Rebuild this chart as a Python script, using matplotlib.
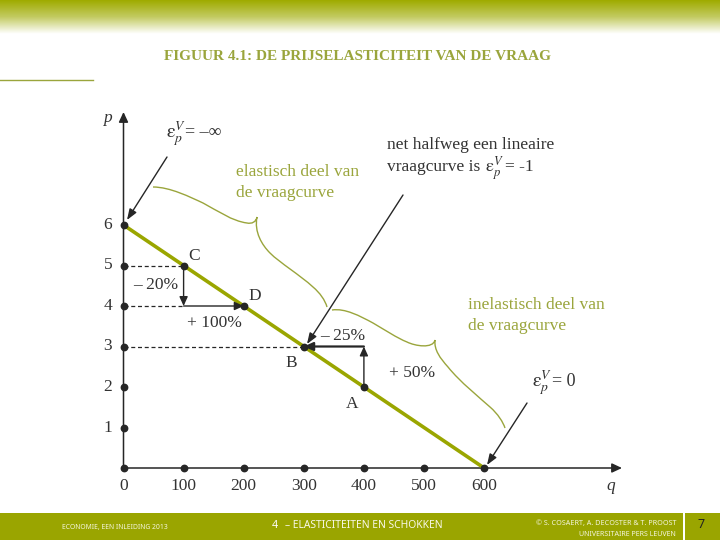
import numpy as np
import matplotlib
matplotlib.use("Agg")
import matplotlib.pyplot as plt
from matplotlib.path import Path
from matplotlib.patches import PathPatch, Rectangle
from matplotlib.colors import LinearSegmentedColormap

plt.rcParams['font.family'] = ['Liberation Serif', 'DejaVu Sans']
plt.rcParams['mathtext.fontset'] = 'stix'

# values
q_ticks = [0, 100, 200, 300, 400, 500, 600]
p_ticks = [1, 2, 3, 4, 5, 6]
curve_q = [0, 600]
curve_p = [6, 0]
point_names = ['C', 'D', 'B', 'A']
point_q = [100, 200, 300, 400]
point_p = [5, 4, 3, 2]
pct_labels = ['– 20%', '+ 100%', '– 25%', '+ 50%']

green = '#9aa600'
text_green = '#9aa53c'
dark = '#262626'
grey = '#333333'

W, H = 720, 540
X0, Y0 = 123.5, 468.0   # pixel of the origin
SX, SY = 0.601, 40.5    # pixels per unit


def px(x, y):
	# pixel in the picture -> data coordinates, only for placing annotations
	return (x - X0) / SX, (Y0 - y) / SY


fig = plt.figure(figsize=(7.2, 5.4), dpi=100)
ax = fig.add_axes([0, 0, 1, 1])
ax.set_xlim(px(0, 0)[0], px(W, 0)[0])
ax.set_ylim(px(0, H)[1], px(0, 0)[1])
ax.axis('off')

# header gradient
cmap = LinearSegmentedColormap.from_list('head', ['#9fab00', '#c3cb62', '#ffffff'])
head = fig.add_axes([0, 1 - 34 / H, 1, 34 / H])
head.imshow(np.linspace(0, 1, 64).reshape(-1, 1), aspect='auto', cmap=cmap)
head.axis('off')

# footer
fig.add_artist(Rectangle((0, 0), 1, 27 / H, transform=fig.transFigure, color='#9aa500', lw=0, zorder=-1))
fig.add_artist(Rectangle((683 / W, 0), 2 / W, 27 / H, transform=fig.transFigure, color='white', lw=0, zorder=-1))
foot = ['Noto Sans', 'DejaVu Sans']
ax.text(*px(115, 527), 'ECONOMIE, EEN INLEIDING 2013', color='#f4f5dc', fontsize=4.9, family=foot, ha='center', va='center')
ax.text(*px(275, 526), '4', color='white', fontsize=7.6, family=foot, weight='bold', ha='center', va='center')
ax.text(*px(443, 526), '– ELASTICITEITEN EN SCHOKKEN', color='#f8f8e8', fontsize=7.4, family=foot, ha='right', va='center')
ax.text(*px(676, 524), '© S. COSAERT, A. DECOSTER & T. PROOST', color='#f4f5dc', fontsize=5.2, family=foot, ha='right', va='center')
ax.text(*px(676, 534), 'UNIVERSITAIRE PERS LEUVEN', color='#f4f5dc', fontsize=5.1, family=foot, ha='right', va='center')
ax.text(*px(701, 525), '7', color='#222222', fontsize=9, family=foot, weight='bold', ha='center', va='center')

# title and rule
ax.text(*px(358, 57), 'FIGUUR 4.1: DE PRIJSELASTICITEIT VAN DE VRAAG', color=text_green, fontsize=11,
	weight='bold', ha='center', va='center')
ax.plot(*zip(px(0, 80), px(93, 80)), color=text_green, lw=1)

# axes with arrow heads
arrow_axis = dict(arrowstyle='-|>,head_width=0.28,head_length=0.6', color=dark, lw=1.1, shrinkA=0, shrinkB=0)
ax.annotate('', xy=(0, px(0, 112)[1]), xytext=(0, 0), arrowprops=arrow_axis)
ax.annotate('', xy=(px(622, 0)[0], 0), xytext=(0, 0), arrowprops=arrow_axis)

# demand curve
ax.plot(curve_q, curve_p, color=green, lw=2.6, solid_capstyle='butt', zorder=3)

# dashed guides
for q, p in [(100, 5), (100, 4), (300, 3)]:
	ax.plot([0, q], [p, p], color=dark, lw=0.9, ls=(0, (3.2, 2.2)), zorder=2)

# change arrows
step = dict(arrowstyle='-|>,head_width=0.25,head_length=0.55', color=dark, shrinkA=0, shrinkB=0)
ax.annotate('', xy=(100, 4), xytext=(100, 5), arrowprops=dict(step, lw=1.0), zorder=4)
ax.annotate('', xy=(200, 4), xytext=(100, 4), arrowprops=dict(step, lw=1.0), zorder=4)
ax.annotate('', xy=(400, 3), xytext=(400, 2), arrowprops=dict(step, lw=1.0), zorder=4)
ax.annotate('', xy=(300, 3), xytext=(400, 3), arrowprops=dict(step, lw=1.6), zorder=4)

# tick and curve points
ax.plot(q_ticks, [0] * len(q_ticks), 'o', color=dark, ms=4.6, zorder=5)
ax.plot([0] * len(p_ticks), p_ticks, 'o', color=dark, ms=4.6, zorder=5)
ax.plot(point_q, point_p, 'o', color=dark, ms=4.6, zorder=5)

# tick labels
for q in q_ticks:
	ax.text(q, px(0, 486)[1], str(q), color=grey, fontsize=12.5, ha='center', va='center')
for p in p_ticks:
	ax.text(px(108, 0)[0], p, str(p), color=grey, fontsize=12.5, ha='center', va='center')
ax.text(*px(611, 486), 'q', color=grey, fontsize=12.5, style='italic', ha='center', va='center')
ax.text(*px(107, 118), 'p', color=grey, fontsize=12.5, style='italic', ha='center', va='center')

# point letters
name_pos = [(194, 256), (255, 296), (291, 363), (352, 404)]
for name, pos in zip(point_names, name_pos):
	ax.text(*px(*pos), name, color=grey, fontsize=12.5, ha='center', va='center')

# percent labels
pct_pos = [(156, 285), (214, 323), (343, 336), (412, 373)]
for label, pos in zip(pct_labels, pct_pos):
	ax.text(*px(*pos), label, color=grey, fontsize=12.5, ha='center', va='center')

# pointer arrows
pointer = dict(arrowstyle='-|>,head_width=0.24,head_length=0.65', color=dark, lw=1.0, shrinkA=0, shrinkB=0)
ax.annotate('', xy=px(127, 220), xytext=px(167, 157), arrowprops=pointer, zorder=4)
ax.annotate('', xy=px(307, 344), xytext=px(403, 195), arrowprops=pointer, zorder=4)
ax.annotate('', xy=px(487, 465), xytext=px(527, 403), arrowprops=pointer, zorder=4)

# elasticity labels
eps = r'$\mathrm{\varepsilon}_{p}^{V}$'
ax.text(*px(166, 134), eps, color=grey, fontsize=14, ha='left', va='center')
ax.text(*px(185, 133), '= –∞', color=grey, fontsize=13, ha='left', va='center')
ax.text(*px(532, 383), eps, color=grey, fontsize=14, ha='left', va='center')
ax.text(*px(552, 382), '= 0', color=grey, fontsize=13, ha='left', va='center')
ax.text(*px(387, 145), 'net halfweg een lineaire', color=grey, fontsize=12.5, ha='left', va='center')
ax.text(*px(387, 167), 'vraagcurve is', color=grey, fontsize=12.5, ha='left', va='center')
ax.text(*px(485, 168), eps, color=grey, fontsize=13, ha='left', va='center')
ax.text(*px(505, 167), '= -1', color=grey, fontsize=12.5, ha='left', va='center')
ax.text(*px(236, 172), 'elastisch deel van', color=text_green, fontsize=12.5, ha='left', va='center')
ax.text(*px(236, 193), 'de vraagcurve', color=text_green, fontsize=12.5, ha='left', va='center')
ax.text(*px(468, 305), 'inelastisch deel van', color=text_green, fontsize=12.5, ha='left', va='center')
ax.text(*px(468, 326), 'de vraagcurve', color=text_green, fontsize=12.5, ha='left', va='center')

# braces
brace_1 = [(153, 187), (170, 187), (190, 197), (203, 203), (218, 211), (232, 221), (247, 223),
	(252, 224), (256, 222), (257, 217), (254, 232), (262, 245), (270, 253),
	(280, 263), (300, 275), (313, 287), (320, 293), (325, 300), (327, 307)]
brace_2 = [(332, 310), (345, 308), (360, 316), (373, 323), (385, 330), (397, 338), (407, 342),
	(415, 346), (433, 349), (435, 340), (434, 350), (440, 358), (448, 367),
	(460, 382), (480, 398), (490, 407), (498, 414), (503, 422), (505, 428)]
for brace in brace_1, brace_2:
	verts = [px(*b) for b in brace]
	codes = [Path.MOVETO] + [Path.CURVE4] * (len(verts) - 1)
	ax.add_patch(PathPatch(Path(verts, codes), fc='none', ec=text_green, lw=1.0))

fig.savefig('out.png', dpi=100)
